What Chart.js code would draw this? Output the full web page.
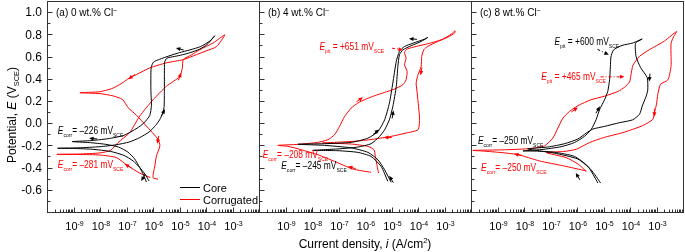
<!DOCTYPE html>
<html>
<head>
<meta charset="utf-8">
<script src="https://cdn.jsdelivr.net/npm/chart.js@4.4.1/dist/chart.umd.min.js"></script>
<style>
  body { margin: 0; background: #fff; }
  #wrap { position: relative; width: 685px; height: 252px; overflow: hidden; }
  canvas { position: absolute; top: 0; }
</style>
</head>
<body>
<div id="wrap">
  <canvas id="panelA" width="260" height="252" style="left:0px"></canvas>
  <canvas id="panelB" width="213" height="252" style="left:259px"></canvas>
  <canvas id="panelC" width="214" height="252" style="left:471px"></canvas>
</div>
<script>
// ---- tick labels ----
const xTickExps = [-9, -8, -7, -6, -5, -4, -3];
const yTickLabels = ['-0.6', '-0.4', '-0.2', '0.0', '0.2', '0.4', '0.6', '0.8', '1.0'];

// ---- (a) 0 wt.% Cl- : log10(i) and E (V vs SCE) ----
const coreA_logI = [-6.15, -6.3, -6.5, -6.75, -7.1, -7.6, -8.3, -9.0, -9.6,
  -8.8, -8.0, -7.4, -6.9, -6.5, -6.15, -5.9, -5.75, -5.63, -5.58, -5.57, -5.57, -5.56, -5.48, -5.2, -4.9, -4.6, -4.25, -3.95, -3.67,
  -3.85, -4.2, -4.6, -5.0, -5.4, -5.75, -5.98, -6.07, -6.08, -6.06, -6.12, -6.35, -6.6, -7.1, -7.7, -8.4, -9.05,
  -8.4, -7.8, -7.3, -6.95, -6.7, -6.5, -6.35, -6.25];
const coreA_E = [-0.52, -0.46, -0.40, -0.34, -0.29, -0.255, -0.235, -0.228, -0.226,
  -0.222, -0.212, -0.195, -0.17, -0.13, -0.08, -0.02, 0.03, 0.09, 0.15, 0.3, 0.45, 0.55, 0.585, 0.6, 0.615, 0.635, 0.665, 0.71, 0.787,
  0.74, 0.69, 0.66, 0.635, 0.605, 0.575, 0.55, 0.5, 0.3, 0.16, 0.07, 0.0, -0.045, -0.11, -0.14, -0.158, -0.166,
  -0.175, -0.19, -0.215, -0.26, -0.32, -0.4, -0.47, -0.53];
const corrA_logI = [-6.1, -6.5, -6.94, -7.38, -8.0, -8.8, -9.63,
  -8.8, -8.0, -7.6, -7.32, -6.88, -6.5, -6.0, -5.49, -4.99, -4.89, -4.86, -4.55, -4.23, -3.73, -3.29,
  -3.6, -4.0, -4.36, -4.86, -5.49, -6.12, -6.62, -6.88, -7.25, -7.57, -8.01, -8.76,
  -8.0, -7.5, -7.15, -6.94, -6.62, -6.25, -5.81, -5.74, -5.87, -5.93, -6.0, -5.81];
const corrA_E = [-0.49, -0.45, -0.385, -0.31, -0.287, -0.282, -0.281,
  -0.278, -0.268, -0.245, -0.175, -0.085, 0.064, 0.21, 0.333, 0.42, 0.5, 0.572, 0.615, 0.662, 0.722, 0.796,
  0.69, 0.65, 0.617, 0.572, 0.543, 0.498, 0.438, 0.408, 0.348, 0.31, 0.283, 0.274,
  0.266, 0.245, 0.213, 0.14, 0.07, -0.026, -0.145, -0.205, -0.295, -0.385, -0.49, -0.505];

// ---- (b) 4 wt.% Cl- ----
const coreB_logI = [-5.14, -5.39, -5.77, -6.27, -7.02, -7.97,
  -7.02, -6.27, -5.77, -5.45, -5.26, -5.08, -4.95, -4.82, -4.76, -4.7, -4.57, -4.26, -3.88, -3.63,
  -3.75, -4.19, -4.51, -4.7, -4.82, -4.95, -5.08, -5.26, -5.51, -5.89, -6.52, -7.53, -8.53,
  -7.53, -6.52, -5.89, -5.51, -5.26, -5.01];
const coreB_E = [-0.524, -0.39, -0.30, -0.263, -0.248, -0.245,
  -0.232, -0.215, -0.185, -0.12, -0.06, 0.03, 0.15, 0.33, 0.51, 0.616, 0.66, 0.697, 0.736, 0.772,
  0.757, 0.72, 0.69, 0.646, 0.556, 0.361, 0.18, 0.03, -0.075, -0.135, -0.173, -0.185, -0.19,
  -0.2, -0.223, -0.263, -0.33, -0.42, -0.533];
const corrB_logI = [-5.77, -6.46, -7.15, -7.78, -8.41, -8.91, -9.29,
  -8.53, -7.78, -7.4, -7.15, -6.96, -6.77, -6.52, -6.27, -6.02, -5.64, -5.26, -4.89, -4.57, -4.45, -4.41, -4.51, -4.45, -4.51, -4.41, -4.07, -3.63, -3.12, -2.74, -2.6,
  -2.62, -2.87, -3.25, -3.63, -3.78, -3.86, -3.88, -4.0, -4.07, -4.03, -3.98, -3.94, -4.0, -4.45, -5.01, -5.64, -6.27, -7.15, -7.6,
  -6.52, -5.89, -5.66, -5.61, -5.54, -5.49];
const corrB_E = [-0.443, -0.413, -0.344, -0.284, -0.239, -0.209, -0.2,
  -0.191, -0.173, -0.149, -0.104, -0.029, 0.061, 0.136, 0.181, 0.211, 0.247, 0.277, 0.307, 0.346, 0.391, 0.466, 0.526, 0.586, 0.637, 0.667, 0.691, 0.715, 0.751, 0.802, 0.832,
  0.811, 0.775, 0.736, 0.691, 0.661, 0.601, 0.511, 0.436, 0.361, 0.271, 0.151, 0.031, -0.059, -0.089, -0.119, -0.143, -0.161, -0.173, -0.178,
  -0.188, -0.209, -0.239, -0.299, -0.389, -0.449];

// ---- (c) 8 wt.% Cl- ----
const coreC_logI = [-5.21, -5.59, -6.1, -6.85, -7.48, -8.04,
  -7.35, -6.6, -6.1, -5.72, -5.47, -5.28, -5.15, -4.96, -4.84, -4.77, -4.74, -4.72, -4.62, -4.3, -3.89, -3.54,
  -3.79, -3.77, -3.6, -3.35, -3.33, -3.39, -3.54, -3.64, -3.9, -4.4, -4.96, -5.4, -5.65, -5.97, -6.47, -7.1, -7.86,
  -6.85, -5.97, -5.47, -5.11];
const coreC_E = [-0.539, -0.389, -0.299, -0.262, -0.252, -0.25,
  -0.238, -0.212, -0.175, -0.119, -0.059, 0.031, 0.121, 0.211, 0.286, 0.391, 0.511, 0.595, 0.66, 0.7, 0.722, 0.758,
  0.72, 0.6, 0.5, 0.41, 0.3, 0.243, 0.153, 0.08, 0.03, 0.004, -0.029, -0.053, -0.089, -0.143, -0.185, -0.215, -0.232,
  -0.27, -0.323, -0.419, -0.539];
const corrC_logI = [-5.65, -6.5, -7.42, -8.23, -8.99, -9.62, -9.93,
  -8.74, -7.73, -7.23, -6.91, -6.72, -6.53, -6.28, -5.97, -5.47, -4.96, -4.46, -4.2, -4.02, -3.97, -3.89, -3.65, -3.28, -2.7, -2.24,
  -2.35, -2.45, -2.45, -2.45, -2.57, -2.85, -2.95, -3.0, -3.08, -3.14, -3.5, -3.9, -4.27, -5.0, -5.53, -6.03, -6.5, -7.16,
  -6.41, -5.95, -5.65];
const corrC_E = [-0.43, -0.385, -0.34, -0.283, -0.262, -0.25, -0.245,
  -0.24, -0.228, -0.205, -0.134, -0.044, 0.046, 0.106, 0.157, 0.211, 0.243, 0.285, 0.325, 0.37, 0.425, 0.52, 0.6, 0.66, 0.74, 0.826,
  0.78, 0.72, 0.6, 0.51, 0.39, 0.35, 0.26, 0.17, 0.094, 0.034, -0.02, -0.056, -0.085, -0.13, -0.175, -0.235, -0.255, -0.265,
  -0.31, -0.37, -0.435];

const FONT = "'Liberation Sans', Arial, Helvetica, sans-serif";
const AXIS = '#333';
const RED = '#ff0000';

// text "*x*" italic, "_{x}" subscript, "^{x}" superscript
function parseRich(s) {
  const out = [];
  const re = /\*([^*]+)\*|_\{([^}]*)\}|\^\{([^}]*)\}|([^*_^]+)/g;
  let m;
  while ((m = re.exec(s))) {
    if (m[1]) out.push({ t: m[1], k: 'i' });
    else if (m[2]) out.push({ t: m[2], k: 'sub' });
    else if (m[3]) out.push({ t: m[3], k: 'sup' });
    else out.push({ t: m[4], k: '' });
  }
  return out;
}

function drawRich(ctx, s, x, y, o) {
  const size = o.size;
  const small = o.small || size * 0.62;
  const fontOf = k => (k === 'i' ? 'italic ' : '') + (k === 'sub' || k === 'sup' ? small : size) + 'px ' + FONT;
  const segs = parseRich(s);
  let w = 0;
  segs.forEach(g => { ctx.font = fontOf(g.k); g.w = ctx.measureText(g.t).width; w += g.w; });
  ctx.save();
  ctx.translate(x, y);
  if (o.rot) ctx.rotate(o.rot);
  ctx.scale(o.sx || 1, 1);
  ctx.fillStyle = o.color || '#000';
  ctx.textBaseline = 'alphabetic';
  let cx = o.align === 'center' ? -w / 2 : o.align === 'right' ? -w : 0;
  segs.forEach(g => {
    ctx.font = fontOf(g.k);
    const dy = g.k === 'sub' ? size * 0.28 : g.k === 'sup' ? -size * 0.4 : 0;
    ctx.fillText(g.t, cx, dy);
    cx += g.w;
  });
  ctx.restore();
}

function drawArrow(ctx, px, py, ang, color, len, dash) {
  const a = ang * Math.PI / 180, c = Math.cos(a), s = Math.sin(a);
  const tx = px + c * len / 2, ty = py + s * len / 2;
  const bx = px - c * len / 2, by = py - s * len / 2;
  ctx.save();
  ctx.strokeStyle = color; ctx.fillStyle = color; ctx.lineWidth = 1;
  if (dash) ctx.setLineDash(dash);
  ctx.beginPath(); ctx.moveTo(bx, by); ctx.lineTo(tx - c * 3, ty - s * 3); ctx.stroke();
  ctx.setLineDash([]);
  ctx.beginPath();
  ctx.moveTo(tx, ty);
  ctx.lineTo(tx - c * 4.5 - s * 2, ty - s * 4.5 + c * 2);
  ctx.lineTo(tx - c * 4.5 + s * 2, ty - s * 4.5 - c * 2);
  ctx.closePath(); ctx.fill();
  ctx.restore();
}

function pts(logI, E) {
  return logI.map((l, i) => ({ x: Math.pow(10, l), y: E[i] }));
}

// tick positions for the axes (decades with 2..9 minor ticks; every 0.1 V)
const xTickValues = [];
for (let n = -10; n < -2; n++) for (let m = 1; m <= 9; m++) xTickValues.push(m * Math.pow(10, n));
xTickValues.push(1e-2);
const yTickValues = [];
for (let k = -8; k <= 11; k++) yTickValues.push(k / 10);

const isDecade = v => Math.abs(Math.log10(v) - Math.round(Math.log10(v))) < 1e-6;

function panelPlugin(p) {
  return {
    id: 'panel' + p.tag,
    afterDraw(chart) {
      const { ctx, chartArea: a } = chart;
      const xs = chart.scales.x, ys = chart.scales.y;
      const X = l => xs.getPixelForValue(Math.pow(10, l));
      const Y = e => ys.getPixelForValue(e);
      const L = Math.round(a.left) + 0.5, R = Math.round(a.right) + 0.5;
      const T = Math.round(a.top) + 0.5, B = Math.round(a.bottom) + 0.5;
      ctx.save();
      ctx.strokeStyle = AXIS; ctx.lineWidth = 1;
      ctx.strokeRect(L, T, R - L, B - T);
      ctx.beginPath();
      xs.ticks.forEach(t => {
        const px = Math.round(xs.getPixelForValue(t.value)) + 0.5;
        ctx.moveTo(px, B); ctx.lineTo(px, B - (isDecade(t.value) ? 5 : 3));
      });
      ys.ticks.forEach(t => {
        const py = Math.round(ys.getPixelForValue(t.value)) + 0.5;
        const major = Math.abs(Math.round(t.value * 10)) % 2 === 0;
        ctx.moveTo(L, py); ctx.lineTo(L + (major ? 5 : 3), py);
      });
      ctx.stroke();

      // x tick labels
      xTickExps.forEach(n => {
        drawRich(ctx, '10^{' + n + '}', X(n) + 1, 230, { size: 11, small: 7, align: 'center' });
      });
      // y tick labels (first panel only)
      if (p.yLabels) {
        yTickLabels.forEach(s => {
          drawRich(ctx, s, a.left - 5, Y(parseFloat(s)) + 4.3, { size: 12, align: 'right' });
        });
        drawRich(ctx, 'Potential, *E* (V_{SCE})', 16, 115, { size: 12, small: 7.5, align: 'center', rot: -Math.PI / 2 });
      }
      if (p.xTitle) {
        drawRich(ctx, 'Current density, *i* (A/cm^{2})', (a.left + a.right) / 2, 248, { size: 12, small: 7.5, align: 'center' });
      }
      // panel label
      drawRich(ctx, p.title, a.left + 9, Y(1.0) + 3.5, { size: 10, small: 6.5 });

      // notes
      p.notes.forEach(n => {
        drawRich(ctx, n.s, X(n.l), Y(n.e) + 3.5, { size: 10, small: 6, sx: 0.84, color: n.c });
      });
      p.pits.forEach(d => {
        const x1 = X(d.l1), y1 = Y(d.e1), x2 = X(d.l2), y2 = Y(d.e2);
        const ang = Math.atan2(y2 - y1, x2 - x1) * 180 / Math.PI;
        const len = Math.hypot(x2 - x1, y2 - y1);
        drawArrow(ctx, (x1 + x2) / 2, (y1 + y2) / 2, ang, d.c, len, [3, 2, 1, 2]);
      });
      p.arrows.forEach(r => drawArrow(ctx, X(r.l), Y(r.e), r.a, r.c, 8));

      // legend
      if (p.legend) {
        chart.data.datasets.forEach((ds, i) => {
          const yy = 187.5 + i * 12;
          ctx.strokeStyle = ds.borderColor; ctx.lineWidth = 1;
          ctx.beginPath(); ctx.moveTo(a.right - 79, yy); ctx.lineTo(a.right - 59, yy); ctx.stroke();
          drawRich(ctx, ds.label, a.right - 56, yy + 4, { size: 11 });
        });
      }
      ctx.restore();
    }
  };
}

function makePanel(id, p) {
  const line = { showLine: true, pointRadius: 0, borderWidth: 1, tension: 0.2, fill: false };
  return new Chart(document.getElementById(id), {
    type: 'scatter',
    data: {
      datasets: [
        Object.assign({ label: 'Core', data: pts(p.coreL, p.coreE), borderColor: '#000' }, line),
        Object.assign({ label: 'Corrugated', data: pts(p.corrL, p.corrE), borderColor: RED }, line)
      ]
    },
    options: {
      responsive: false,
      animation: false,
      events: [],
      layout: { padding: { top: 1, right: p.padR, left: 0, bottom: 0 } },
      plugins: { legend: { display: false }, tooltip: { enabled: false } },
      scales: {
        x: {
          type: 'logarithmic', min: 1e-10, max: 1e-2,
          grid: { display: false }, border: { display: false }, ticks: { display: false },
          afterBuildTicks: s => { s.ticks = xTickValues.map(v => ({ value: v })); },
          afterFit: s => { s.height = 40; }
        },
        y: {
          type: 'linear', min: -0.8, max: 1.1,
          grid: { display: false }, border: { display: false }, ticks: { display: false },
          afterBuildTicks: s => { s.ticks = yTickValues.map(v => ({ value: v })); },
          afterFit: s => { s.width = p.yw; }
        }
      }
    },
    plugins: [panelPlugin(p)]
  });
}

makePanel('panelA', {
  tag: 'A', yw: 47, padR: 1, yLabels: true, legend: true,
  title: '(a) 0 wt.% Cl^{–}',
  coreL: coreA_logI, coreE: coreA_E, corrL: corrA_logI, corrE: corrA_E,
  notes: [
    { s: '*E*_{corr}= –226 mV_{SCE}', l: -9.59, e: -0.07, c: '#000' },
    { s: '*E*_{corr}= –281 mV_{SCE}', l: -9.59, e: -0.37, c: RED }
  ],
  pits: [],
  arrows: [
    { l: -4.99, e: 0.668, a: 195, c: '#000' },
    { l: -6.81, e: 0.417, a: 145, c: RED },
    { l: -4.99, e: 0.42, a: -70, c: RED },
    { l: -5.62, e: 0.094, a: -60, c: '#000' },
    { l: -8.26, e: -0.139, a: 185, c: '#000' },
    { l: -5.81, e: -0.15, a: 100, c: RED },
    { l: -6.94, e: -0.385, a: 210, c: RED },
    { l: -6.37, e: -0.49, a: 120, c: '#000' }
  ]
});

makePanel('panelB', {
  tag: 'B', yw: 0, padR: 1, xTitle: true,
  title: '(b) 4 wt.% Cl^{–}',
  coreL: coreB_logI, coreE: coreB_E, corrL: corrB_logI, corrE: corrB_E,
  notes: [
    { s: '*E*_{pit} = +651 mV_{SCE}', l: -7.72, e: 0.69, c: RED },
    { s: '*E*_{corr}= –208 mV_{SCE}', l: -9.86, e: -0.28, c: RED },
    { s: '*E*_{corr}= –245 mV_{SCE}', l: -9.16, e: -0.385, c: '#000' }
  ],
  pits: [{ l1: -4.98, e1: 0.675, l2: -4.57, e2: 0.66, c: RED }],
  arrows: [
    { l: -4.19, e: 0.758, a: 185, c: '#000' },
    { l: -5.58, e: -0.08, a: -40, c: '#000' },
    { l: -4.95, e: 0.079, a: -80, c: '#000' },
    { l: -5.01, e: -0.504, a: -120, c: '#000' },
    { l: -6.2, e: 0.213, a: -35, c: RED },
    { l: -3.88, e: 0.467, a: 100, c: RED },
    { l: -5.14, e: -0.13, a: 180, c: RED },
    { l: -6.5, e: -0.4, a: 195, c: RED }
  ]
});

makePanel('panelC', {
  tag: 'C', yw: 0, padR: 2,
  title: '(c) 8 wt.% Cl^{–}',
  coreL: coreC_logI, coreE: coreC_E, corrL: corrC_logI, corrE: corrC_E,
  notes: [
    { s: '*E*_{pit} = +600 mV_{SCE}', l: -6.85, e: 0.736, c: '#000' },
    { s: '*E*_{pit} = +465 mV_{SCE}', l: -7.35, e: 0.417, c: RED },
    { s: '*E*_{corr}= –250 mV_{SCE}', l: -9.74, e: -0.16, c: '#000' },
    { s: '*E*_{corr}= –250 mV_{SCE}', l: -9.62, e: -0.40, c: RED }
  ],
  pits: [
    { l1: -5.23, e1: 0.665, l2: -4.8, e2: 0.615, c: '#000' },
    { l1: -5.11, e1: 0.417, l2: -4.21, e2: 0.417, c: RED }
  ],
  arrows: [
    { l: -5.21, e: 0.121, a: -60, c: '#000' },
    { l: -3.26, e: 0.41, a: 95, c: '#000' },
    { l: -6.09, e: 0.121, a: -35, c: RED },
    { l: -3.08, e: 0.094, a: 90, c: RED },
    { l: -8.23, e: -0.284, a: 190, c: RED },
    { l: -5.97, e: -0.479, a: -120, c: '#000' }
  ]
});
</script>
</body>
</html>
